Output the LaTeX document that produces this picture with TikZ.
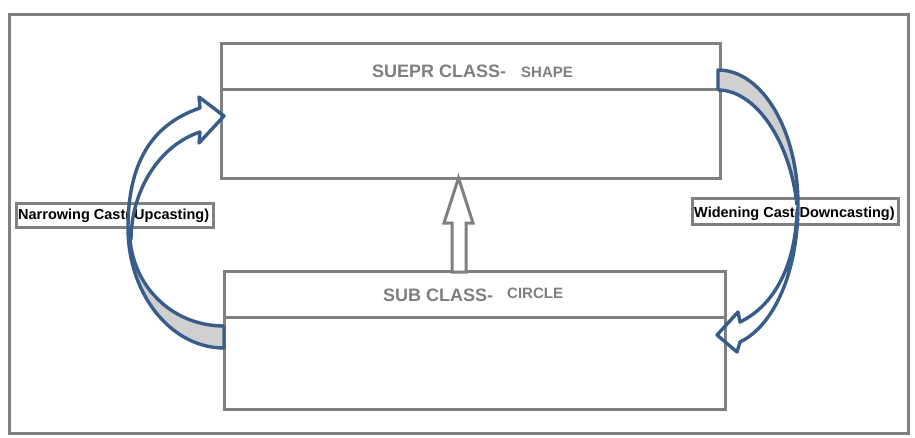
\documentclass[tikz,border=0pt]{standalone}
\usepackage{fontspec}
\setmainfont{Liberation Sans}
\definecolor{boxgray}{HTML}{808080}
\definecolor{arrblue}{HTML}{385D8A}
\definecolor{backgray}{HTML}{D0D0D0}
\definecolor{txtgray}{HTML}{7F7F7F}
\begin{document}
\begin{tikzpicture}[x=1pt,y=-1pt,
  frame/.style={draw=boxgray, line width=3pt},
  classbox/.style={draw=boxgray, line width=3pt, fill=white},
  divider/.style={draw=boxgray, line width=3pt},
  bigtitle/.style={text=txtgray, font=\fontsize{18}{21}\selectfont\bfseries, inner sep=0pt, anchor=base west},
  smalltitle/.style={text=txtgray, font=\fontsize{15}{17}\selectfont\bfseries, inner sep=0pt, anchor=base west},
  labelbox/.style={draw=boxgray, line width=3pt, fill=white, inner sep=0pt},
  labeltext/.style={text=black, font=\fontsize{14.5}{17}\selectfont\bfseries, inner sep=0pt, anchor=base west},
  blockarrow/.style={draw=boxgray, line width=3pt, fill=white, line join=miter},
  curvearrow/.style={draw=arrblue, line width=3.4pt, line join=round},
  backband/.style={fill=backgray}
]
\useasboundingbox (0,0) rectangle (915,437);
% outer frame
\draw[frame] (9.5,14) rectangle (908.5,433.5);

% super class box
\node[classbox, anchor=north west, minimum width=499pt, minimum height=135pt, inner sep=0pt] (super) at (220,42) {};
\draw[divider] (220,89) coordinate (supL) -- (719,89) coordinate (supR);
\node[bigtitle] (supname) at (372,77) {SUEPR CLASS-};
\node[smalltitle] (supshape) at (521,77) {SHAPE};

% sub class box
\node[classbox, anchor=north west, minimum width=501pt, minimum height=138pt, inner sep=0pt] (sub) at (223,270) {};
\draw[divider] (223,317) coordinate (subL) -- (724,317) coordinate (subR);
\node[bigtitle] (subname) at (383,301) {SUB CLASS-};
\node[smalltitle] (subcircle) at (507,298) {CIRCLE};

% hollow inheritance arrow
\coordinate (tip) at (458.5,178);
\draw[blockarrow] (452,272) -- (452,223) -- (444,223) -- (tip) -- (473,223) -- (466,223) -- (466,272) -- cycle;

% labels
\node[labelbox, minimum width=197pt, minimum height=24pt] (lbox) at (114.5,215) {};
\node[labeltext] (ltext) at (18,219) {Narrowing Cast( Upcasting)};
\node[labelbox, minimum width=206pt, minimum height=26pt] (rbox) at (795,211) {};
\node[labeltext] (rtext) at (694,217) {Widening Cast(Downcasting)};

% left curved arrow (upcasting)
\fill[backband] (224,348) .. controls (171,348) and (128,294) .. (128,228)
  -- (130,240) .. controls (135,290) and (175,326) .. (224,326) -- cycle;
\draw[curvearrow] (224,326) .. controls (175,326) and (135,290) .. (130,240);
\draw[curvearrow] (224,326) -- (224,348)
  .. controls (171,348) and (128,294) .. (128,228)
  .. controls (128,165) and (150,125) .. (200,108)
  -- (199,97) -- (224,116) -- (199,143) -- (200,132)
  .. controls (160,145) and (131,190) .. (131,240);

% right curved arrow (downcasting)
\fill[backband] (718,70) .. controls (762,70) and (798,130) .. (798,205)
  -- (797,205) .. controls (790,140) and (755,90) .. (718,90) -- cycle;
\draw[curvearrow] (718,90) .. controls (755,90) and (790,140) .. (797,205);
\draw[curvearrow] (718,90) -- (718,70)
  .. controls (762,70) and (798,130) .. (798,205)
  .. controls (798,270) and (775,325) .. (740,342)
  -- (737,352) -- (717,335) -- (738,312) -- (740,322)
  .. controls (775,305) and (795,265) .. (797,212);
\end{tikzpicture}
\end{document}
